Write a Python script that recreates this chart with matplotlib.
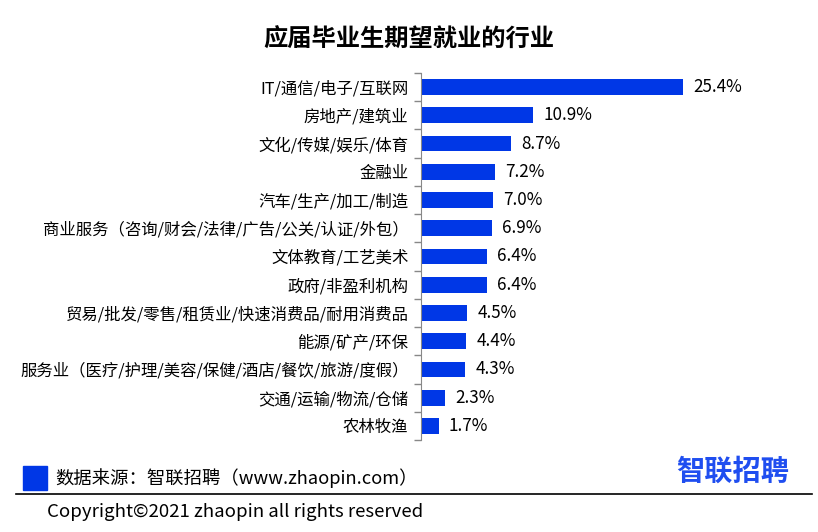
import matplotlib
matplotlib.use('Agg')
import matplotlib.pyplot as plt
import numpy as np

plt.rcParams['font.family'] = ['Noto Sans CJK SC', 'DejaVu Sans']

title = "应届毕业生期望就业的行业"
industries = ["IT/通信/电子/互联网", "房地产/建筑业", "文化/传媒/娱乐/体育", "金融业",
              "汽车/生产/加工/制造", "商业服务（咨询/财会/法律/广告/公关/认证/外包）",
              "文体教育/工艺美术", "政府/非盈利机构", "贸易/批发/零售/租赁业/快速消费品/耐用消费品",
              "能源/矿产/环保", "服务业（医疗/护理/美容/保健/酒店/餐饮/旅游/度假）",
              "交通/运输/物流/仓储", "农林牧渔"]
shares = [25.4, 10.9, 8.7, 7.2, 7.0, 6.9, 6.4, 6.4, 4.5, 4.4, 4.3, 2.3, 1.7]

blue = '#0037e6'

fig = plt.figure(figsize=(8.18, 5.32), dpi=100)
ax = fig.add_axes([421/818, 1-440/532, 309/818, 367/532])

y = np.arange(len(industries))
ax.barh(y, shares, height=0.56, color=blue)
for yi, v in zip(y, shares):
    ax.text(v + 1.0, yi, f"{v:.1f}%", va='center', ha='left', fontsize=12.3)

ax.set_ylim(len(industries) - 0.5, -0.5)
ax.set_xlim(0, 30)
ax.set_yticks(y)
ax.set_yticklabels(industries, fontsize=11.8)
ax.set_yticks(np.arange(len(industries) + 1) - 0.5, minor=True)
ax.tick_params(axis='y', which='major', length=0, pad=9)
ax.tick_params(axis='y', which='minor', length=5, color='#888888', width=1)
ax.set_xticks([])
for s in ['top', 'right', 'bottom']:
    ax.spines[s].set_visible(False)
ax.spines['left'].set_color('#888888')

fig.text(409/818, 1-40/532, title, ha='center', va='center', fontsize=17.5, fontweight='bold')

# footer
fig.patches.append(plt.Rectangle((23/818, 1-490/532), 24/818, 24/532, transform=fig.transFigure,
                                 color=blue))
fig.text(55/818, 1-478/532, "数据来源：智联招聘（www.zhaopin.com）", ha='left', va='center', fontsize=13.2)
fig.text(733/818, 1-472/532, "智联招聘", ha='center', va='center', fontsize=20.3,
         fontweight='bold', color='#1f4ef0')
fig.add_artist(plt.Line2D([16/818, 812/818], [1-494/532, 1-494/532], color='black', lw=1.2))
fig.text(47/818, 1-512/532, "Copyright©2021 zhaopin all rights reserved", ha='left', va='center',
         fontsize=13.4)

plt.savefig('out.png', dpi=100)
